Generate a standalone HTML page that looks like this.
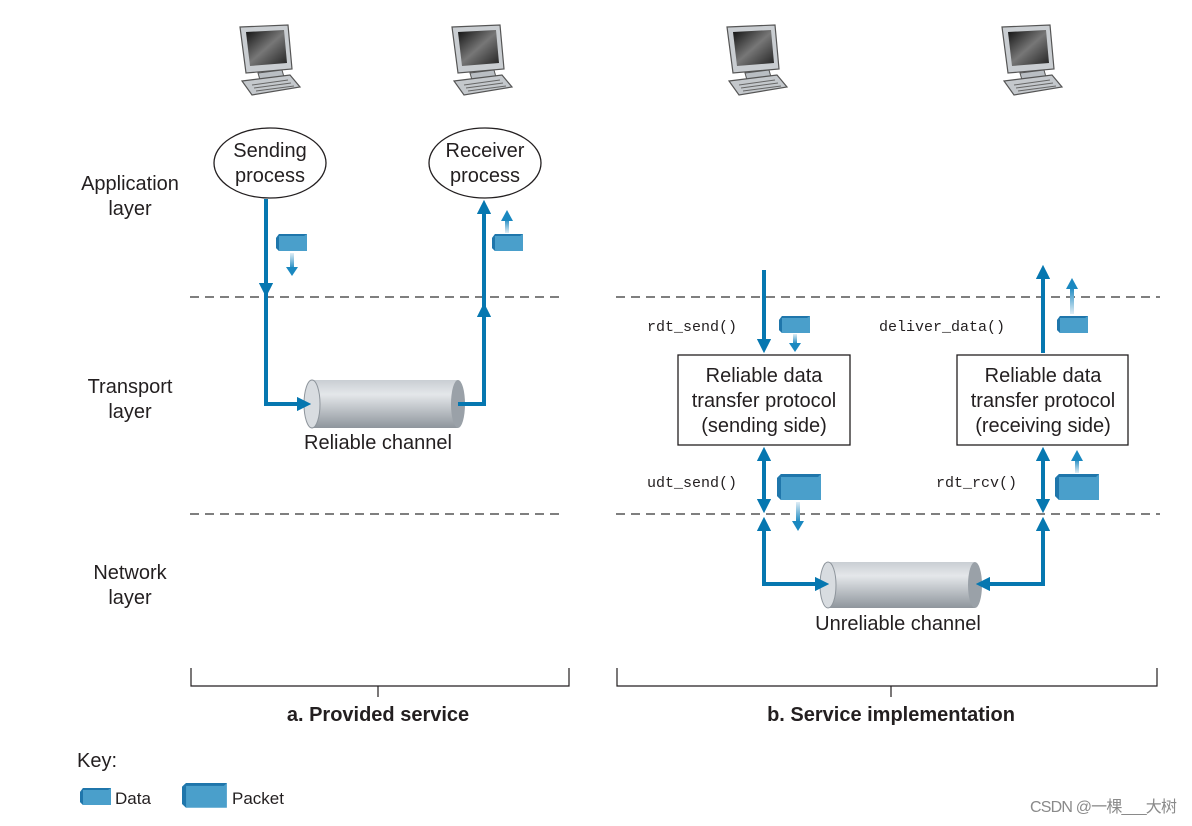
<!DOCTYPE html>
<html><head><meta charset="utf-8"><style>
body{margin:0;background:#fff}
svg{display:block}
text{font-family:"Liberation Sans",sans-serif;fill:#231f20}
text.m{font-family:"Liberation Mono",monospace;font-size:15px}
</style></head><body>
<svg width="1192" height="826" viewBox="0 0 1192 826" xmlns="http://www.w3.org/2000/svg">
<defs>
<linearGradient id="scr" x1="0" y1="0" x2="1" y2="1"><stop offset="0" stop-color="#111"/><stop offset=".5" stop-color="#777"/><stop offset="1" stop-color="#222"/></linearGradient>
<linearGradient id="cyl" x1="0" y1="0" x2="0" y2="1"><stop offset="0" stop-color="#c9ced3"/><stop offset=".3" stop-color="#e4e7ea"/><stop offset="1" stop-color="#8e959c"/></linearGradient>
<linearGradient id="fadeD" x1="0" y1="0" x2="0" y2="1"><stop offset="0" stop-color="#e0eef6"/><stop offset="1" stop-color="#1a88c0"/></linearGradient>
<linearGradient id="fadeU" x1="0" y1="1" x2="0" y2="0"><stop offset="0" stop-color="#e0eef6"/><stop offset="1" stop-color="#1a88c0"/></linearGradient>
<marker id="ah" markerWidth="3.6" markerHeight="3.6" refX="1.8" refY="1.8" orient="auto" markerUnits="strokeWidth"><path d="M0,0 L3.6,1.8 L0,3.6 z" fill="#0677b0"/></marker>
<g id="pc">
<path d="M2,2 L50,0 L54,44 L8,48 z" fill="#c9cdd1" stroke="#555" stroke-width="1.2"/>
<path d="M8,7 L46,5 L49,38 L12,41 z" fill="url(#scr)"/>
<path d="M20,48 L44,45 L46,52 L22,55 z" fill="#b9bec3" stroke="#555" stroke-width="1"/>
<path d="M4,56 L52,50 L62,62 L14,70 z" fill="#c4c8cc" stroke="#555" stroke-width="1.2"/>
<path d="M14,60 L50,55 M16,63 L53,58 M18,66 L56,61" stroke="#666" stroke-width="1"/>
</g>
<g id="dp"><path d="M0,4 L3,0 L31,0 L31,17 L3,17 L0,14 z" fill="#4a9fcb"/><path d="M0,4 L3,0 L31,0 L28,2 L3,2 z" fill="#1f76ab"/><path d="M0,4 L3,2 L3,17 L0,14z" fill="#1f76ab"/></g>
<g id="pk"><path d="M0,4 L4,0 L44,0 L44,26 L4,26 L0,22 z" fill="#4a9fcb"/><path d="M0,4 L4,0 L44,0 L41,3 L4,3 z" fill="#1f76ab"/><path d="M0,4 L4,3 L4,26 L0,22z" fill="#1f76ab"/></g>
</defs>

<use href="#pc" x="238" y="25"/><use href="#pc" x="450" y="25"/><use href="#pc" x="725" y="25"/><use href="#pc" x="1000" y="25"/>

<g font-size="20" text-anchor="middle">
<text x="130" y="190">Application</text><text x="130" y="215">layer</text>
<text x="130" y="393">Transport</text><text x="130" y="418">layer</text>
<text x="130" y="579">Network</text><text x="130" y="604">layer</text>
</g>

<g stroke="#333" stroke-width="1.3" stroke-dasharray="9,6" fill="none">
<path d="M190,297 H565 M616,297 H1160 M190,514 H565 M616,514 H1160"/>
</g>

<ellipse cx="270" cy="163" rx="56" ry="35" fill="#fff" stroke="#231f20" stroke-width="1.3"/>
<ellipse cx="485" cy="163" rx="56" ry="35" fill="#fff" stroke="#231f20" stroke-width="1.3"/>
<g font-size="20" text-anchor="middle"><text x="270" y="157">Sending</text><text x="270" y="182">process</text><text x="485" y="157">Receiver</text><text x="485" y="182">process</text></g>

<rect x="312" y="380" width="146" height="48" fill="url(#cyl)"/>
<ellipse cx="458" cy="404" rx="7" ry="24" fill="#9aa1a8"/>
<ellipse cx="312" cy="404" rx="8" ry="24" fill="#d8dce0" stroke="#8e959c"/>
<rect x="828" y="562" width="147" height="46" fill="url(#cyl)"/>
<ellipse cx="975" cy="585" rx="7" ry="23" fill="#9aa1a8"/>
<ellipse cx="828" cy="585" rx="8" ry="23" fill="#d8dce0" stroke="#8e959c"/>

<g stroke="#0677b0" stroke-width="4" fill="none">
<path d="M266,199 V404 H304" marker-end="url(#ah)"/>
<path d="M266,199 V290" marker-end="url(#ah)"/>
<path d="M458,404 H484 V207" marker-end="url(#ah)"/>
<path d="M484,404 V310" marker-end="url(#ah)"/>
</g>
<text x="378" y="449" font-size="20" text-anchor="middle">Reliable channel</text>

<use href="#dp" x="276" y="234"/>
<rect x="290" y="253" width="4" height="16" fill="url(#fadeD)"/><path d="M286,267 L298,267 L292,276z" fill="#1a88c0"/>
<use href="#dp" x="492" y="234"/>
<rect x="505" y="219" width="4" height="14" fill="url(#fadeU)"/><path d="M501,221 L513,221 L507,210z" fill="#1a88c0"/>

<rect x="678" y="355" width="172" height="90" fill="#fff" stroke="#231f20" stroke-width="1.3"/>
<rect x="957" y="355" width="171" height="90" fill="#fff" stroke="#231f20" stroke-width="1.3"/>
<g font-size="20" text-anchor="middle">
<text x="764" y="382">Reliable data</text><text x="764" y="407">transfer protocol</text><text x="764" y="432">(sending side)</text>
<text x="1043" y="382">Reliable data</text><text x="1043" y="407">transfer protocol</text><text x="1043" y="432">(receiving side)</text>
</g>
<text class="m" x="647" y="331">rdt_send()</text><text class="m" x="879" y="331">deliver_data()</text><text class="m" x="647" y="487">udt_send()</text><text class="m" x="936" y="487">rdt_rcv()</text>

<g stroke="#0677b0" stroke-width="4" fill="none">
<path d="M764,270 V346" marker-end="url(#ah)"/>
<path d="M1043,353 V272" marker-end="url(#ah)"/>
<path d="M764,500 V454" marker-end="url(#ah)"/>
<path d="M764,460 V506" marker-end="url(#ah)"/>
<path d="M1043,500 V454" marker-end="url(#ah)"/>
<path d="M1043,460 V506" marker-end="url(#ah)"/>
<path d="M764,584 V524" marker-end="url(#ah)"/>
<path d="M764,530 V584 H822" marker-end="url(#ah)"/>
<path d="M1043,530 V584 H983" marker-end="url(#ah)"/>
<path d="M1043,584 V524" marker-end="url(#ah)"/>
</g>
<text x="898" y="630" font-size="20" text-anchor="middle">Unreliable channel</text>

<use href="#dp" x="779" y="316"/>
<rect x="793" y="334" width="4" height="10" fill="url(#fadeD)"/><path d="M789,343 L801,343 L795,352z" fill="#1a88c0"/>
<use href="#dp" x="1057" y="316"/>
<rect x="1070" y="287" width="4" height="27" fill="url(#fadeU)"/><path d="M1066,289 L1078,289 L1072,278z" fill="#1a88c0"/>
<use href="#pk" x="777" y="474"/>
<rect x="796" y="502" width="4" height="20" fill="url(#fadeD)"/><path d="M792,521 L804,521 L798,531z" fill="#1a88c0"/>
<use href="#pk" x="1055" y="474"/>
<rect x="1075" y="459" width="4" height="14" fill="url(#fadeU)"/><path d="M1071,461 L1083,461 L1077,450z" fill="#1a88c0"/>

<g stroke="#231f20" stroke-width="1.2" fill="none">
<path d="M191,668 V686 H569 V668 M378,686 V697"/>
<path d="M617,668 V686 H1157 V668 M891,686 V697"/>
</g>
<g font-size="20" font-weight="bold" text-anchor="middle">
<text x="378" y="721">a. Provided service</text><text x="891" y="721">b. Service implementation</text>
</g>

<text x="77" y="767" font-size="20">Key:</text>
<use href="#dp" x="80" y="788"/><text x="115" y="804" font-size="17">Data</text>
<g transform="translate(182,783) scale(1.02,0.95)"><use href="#pk"/></g><text x="232" y="804" font-size="17">Packet</text>

<text x="1030" y="812" font-size="16" textLength="147" style="font-family:'Liberation Sans','Noto Sans CJK SC',sans-serif;fill:#8a8a8a">CSDN @一棵___大树</text>
</svg>
</body></html>
